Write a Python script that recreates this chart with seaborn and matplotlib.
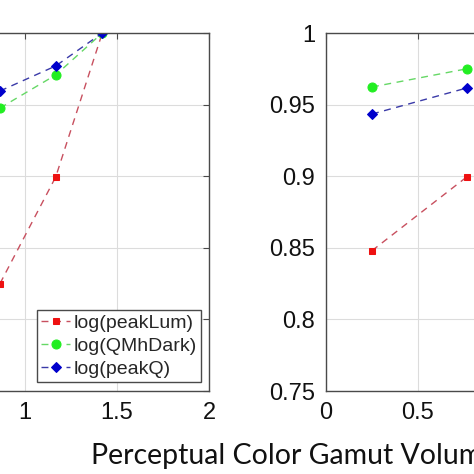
import matplotlib
matplotlib.use("Agg")
import matplotlib.pyplot as plt
import seaborn as sns
import pandas as pd

# ---- data ----
series_names = ["log(peakLum)", "log(QMhDark)", "log(peakQ)"]

left_x = [0.864, 1.167, 1.42]
left_peakLum = [0.825, 0.8995, 1.0]
left_QMhDark = [0.9476, 0.9707, 1.0]
left_peakQ = [0.9595, 0.977, 1.0]

right_x = [0.25, 0.765]
right_peakLum = [0.848, 0.8995]
right_QMhDark = [0.9623, 0.975]
right_peakQ = [0.9434, 0.9616]

x_ticks = [0, 0.5, 1, 1.5, 2]
x_tick_labels = ["0", "0.5", "1", "1.5", "2"]
y_ticks = [0.75, 0.8, 0.85, 0.9, 0.95, 1]
y_tick_labels = ["0.75", "0.8", "0.85", "0.9", "0.95", "1"]
xlabel = "Perceptual Color Gamut Volume"

# ---- styles ----
line_colors = ["#c8505f", "#66d866", "#3a3aa8"]
marker_colors = ["#ee1111", "#22ee22", "#0000cc"]
markers = ["s", "o", "D"]
marker_sizes = [4.5, 6.5, 5]

sns.set_style("white")
plt.rcParams["font.family"] = ["Liberation Sans", "DejaVu Sans"]

fig = plt.figure(figsize=(4.74, 4.74), dpi=100)
W, H = 474, 474
ax_w, ax_h = 368 / W, 358 / H
bottom = (H - 391) / H
axL = fig.add_axes([(209 - 368) / W, bottom, ax_w, ax_h])
axR = fig.add_axes([326 / W, bottom, ax_w, ax_h])

def draw(ax, xs, ys_list, visible_x_labels, show_y_labels):
    for name, ys, lc, mc, mk, ms in zip(series_names, ys_list, line_colors,
                                        marker_colors, markers, marker_sizes):
        df = pd.DataFrame({"x": xs, "y": ys})
        sns.lineplot(data=df, x="x", y="y", ax=ax, color=lc, linestyle="--",
                     linewidth=1.0, marker=mk, markersize=ms,
                     markerfacecolor=mc, markeredgecolor=mc, label=name,
                     legend=False)
        ax.lines[-1].set_linestyle((0, (5, 4)))
    ax.set_xlim(0, 2)
    ax.set_ylim(0.75, 1)
    ax.set_xticks(x_ticks)
    ax.set_xticklabels([t if t in visible_x_labels else "" for t in x_tick_labels])
    ax.set_yticks(y_ticks)
    ax.set_yticklabels(y_tick_labels if show_y_labels else [""] * len(y_ticks))
    ax.set_xlabel("")
    ax.set_ylabel("")
    ax.grid(True, color="#dcdcdc", linewidth=0.8)
    ax.set_axisbelow(True)
    for s in ax.spines.values():
        s.set_visible(True)
        s.set_color("#4a4a4a")
        s.set_linewidth(1.0)
    ax.tick_params(direction="in", length=4, width=0.8, color="#4a4a4a",
                   labelsize=17, top=True, right=True, pad=8,
                   labelcolor="#111111")

# parts of the full figure lie outside this cropped view
draw(axL, left_x, [left_peakLum, left_QMhDark, left_peakQ],
     ["1", "1.5", "2"], False)
draw(axR, right_x, [right_peakLum, right_QMhDark, right_peakQ],
     ["0", "0.5"], True)

handles = axL.lines[:3]
leg = axL.legend(handles=handles, labels=series_names, loc="lower right",
                 bbox_to_anchor=(0.978, 0.025), fontsize=14, frameon=True,
                 fancybox=False, framealpha=1, edgecolor="#4a4a4a",
                 handlelength=1.5, handletextpad=0.15, labelspacing=0.28,
                 borderpad=0.22, borderaxespad=0)
leg.get_frame().set_linewidth(1.0)

fig.text(91 / W, 1 - 464 / H, xlabel, ha="left", va="baseline", fontsize=20.5,
         family=["Lato", "DejaVu Sans"], color="#111111")

fig.savefig("out.png", dpi=100)
